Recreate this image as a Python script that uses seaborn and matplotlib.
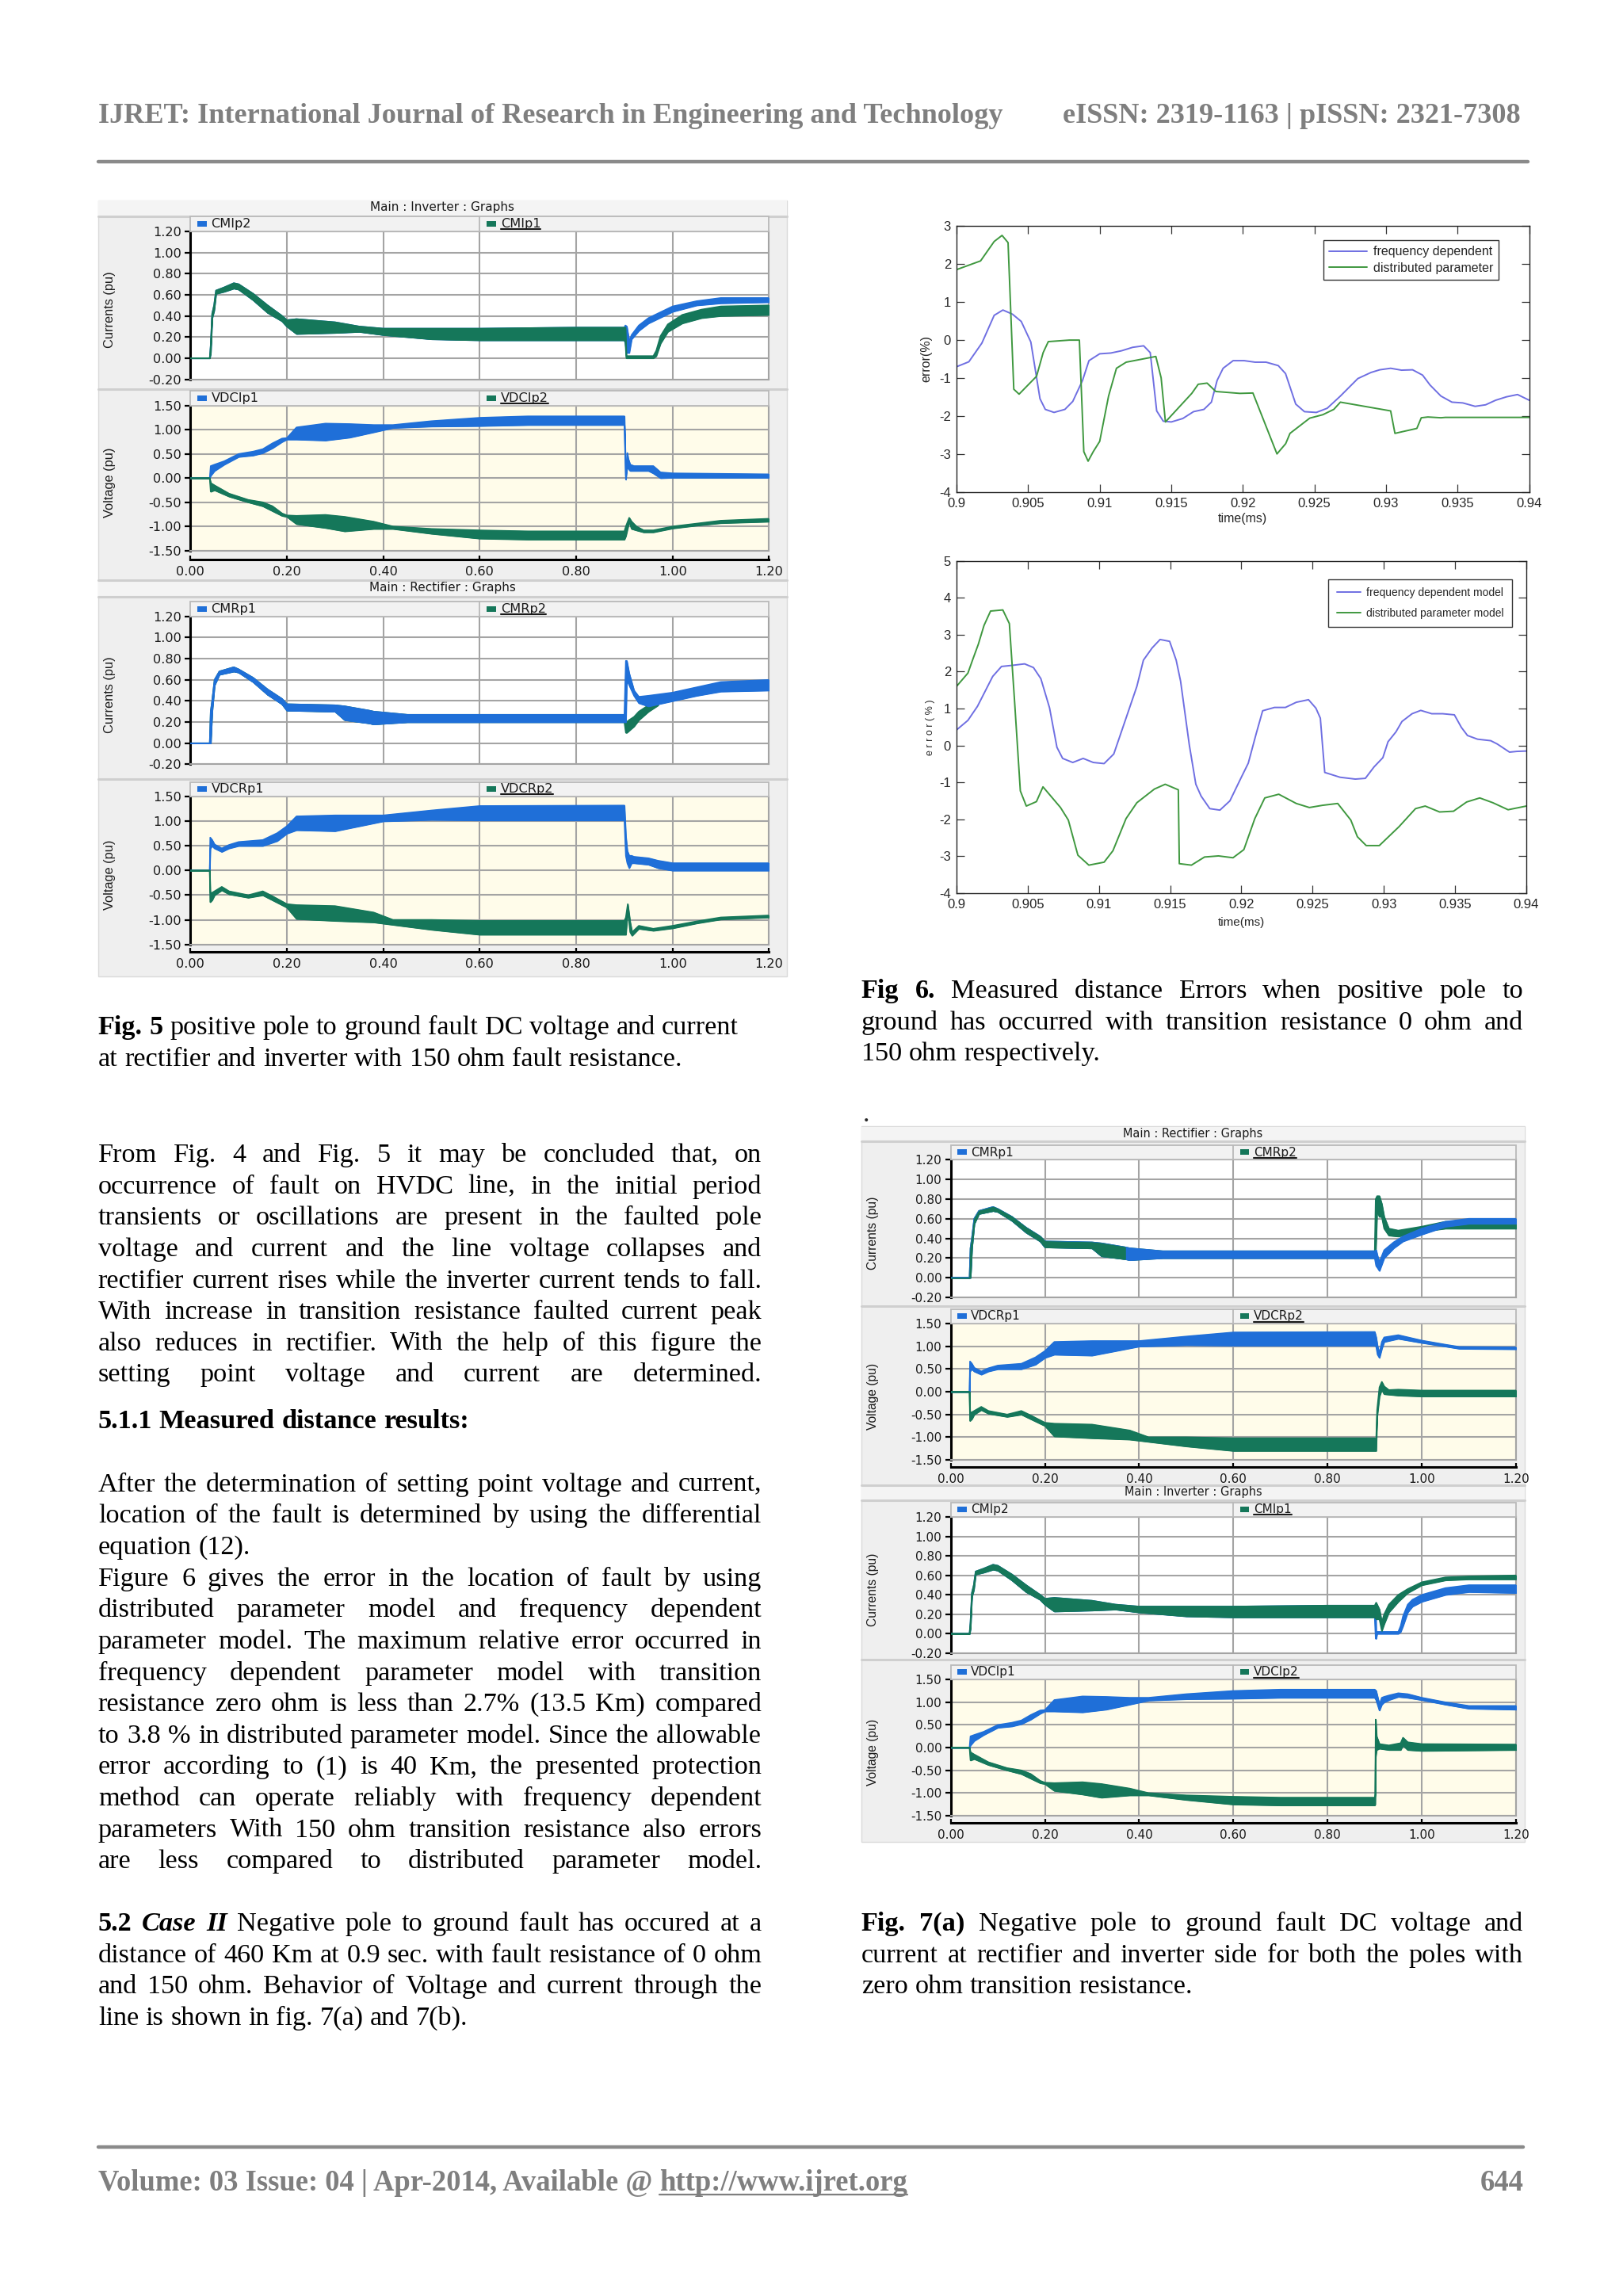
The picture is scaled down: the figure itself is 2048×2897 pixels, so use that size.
import numpy as np
import pandas as pd
import matplotlib
matplotlib.use('Agg')
import matplotlib.pyplot as plt
import seaborn as sns
from matplotlib.patches import Rectangle
from matplotlib.lines import Line2D

# ======================= DATA =======================
# ---- Fig 6 (top): error vs time, 0 ohm
F6A_T_FD = [0.9, 0.90086, 0.90177, 0.90263, 0.90324, 0.90391, 0.90452, 0.90519, 0.90583, 0.9062, 0.90681,
            0.90757, 0.90812, 0.9088, 0.90925, 0.91, 0.91077, 0.91153, 0.9123, 0.91307, 0.91353, 0.91398,
            0.91444, 0.9150, 0.9158, 0.91655, 0.91728, 0.9178, 0.9182, 0.91862, 0.91932, 0.92009, 0.92085,
            0.92162, 0.92247, 0.92298, 0.92369, 0.9243, 0.92513, 0.92589, 0.92681, 0.92803, 0.92895,
            0.92956, 0.93032, 0.93108, 0.93185, 0.93255, 0.93307, 0.93383, 0.9346, 0.93536, 0.93622,
            0.93695, 0.93765, 0.93841, 0.93918, 0.94]
F6A_E_FD = [-0.71, -0.58, -0.09, 0.64, 0.78, 0.67, 0.48, -0.06, -1.55, -1.83, -1.91,
            -1.83, -1.62, -1.07, -0.55, -0.37, -0.35, -0.29, -0.20, -0.16, -0.34, -1.87,
            -2.14, -2.16, -2.07, -1.89, -1.83, -1.64, -1.07, -0.75, -0.55, -0.55, -0.59,
            -0.59, -0.68, -0.89, -1.69, -1.89, -1.91, -1.80, -1.48, -1.02, -0.86,
            -0.79, -0.75, -0.80, -0.79, -0.93, -1.19, -1.48, -1.64, -1.66, -1.75,
            -1.71, -1.59, -1.50, -1.44, -1.59]
F6A_T_DP = [0.9, 0.90168, 0.90263, 0.90318, 0.9036, 0.904, 0.90437, 0.90559, 0.90605, 0.90641, 0.90788,
            0.90858, 0.90889, 0.90919, 0.90955, 0.91, 0.91062, 0.91117, 0.91185, 0.91392, 0.91429,
            0.91459, 0.91643, 0.91688, 0.9175, 0.91811, 0.91979, 0.9207, 0.92238, 0.92299, 0.92329,
            0.92467, 0.92558, 0.92635, 0.92681, 0.93032, 0.93062, 0.93215, 0.93246, 0.93292, 0.93383,
            0.93414, 0.94]
F6A_E_DP = [1.84, 2.07, 2.58, 2.74, 2.55, -1.30, -1.43, -0.96, -0.34, -0.05, -0.01,
            -0.01, -2.94, -3.19, -2.94, -2.67, -1.48, -0.75, -0.59, -0.44, -1.00,
            -2.16, -1.41, -1.17, -1.14, -1.36, -1.41, -1.40, -3.00, -2.73, -2.46,
            -2.06, -1.97, -1.83, -1.64, -1.87, -2.46, -2.33, -2.05, -2.03, -2.05,
            -2.04, -2.04]

# ---- Fig 6 (bottom): error vs time, 150 ohm
F6B_T_FD = [0.9, 0.9008, 0.90147, 0.90254, 0.90316, 0.90392, 0.90478, 0.9054, 0.90592, 0.90653, 0.90705,
            0.90745, 0.90816, 0.90889, 0.9096, 0.91036, 0.91104, 0.9119, 0.91266, 0.91312, 0.91373,
            0.91429, 0.91496, 0.91542, 0.91573, 0.91634, 0.9168, 0.91717, 0.91778, 0.91849, 0.91919,
            0.92002, 0.92048, 0.92103, 0.92149, 0.92232, 0.92309, 0.92385, 0.92471, 0.92523, 0.92554,
            0.92569, 0.92585, 0.92692, 0.92799, 0.9287, 0.92931, 0.92993, 0.93029, 0.93085, 0.93127,
            0.93198, 0.93259, 0.93336, 0.93413, 0.93495, 0.93544, 0.93587, 0.93658, 0.9375, 0.93796,
            0.93882, 0.93934, 0.94]
F6B_E_FD = [0.42, 0.68, 1.06, 1.87, 2.14, 2.17, 2.21, 2.11, 1.81, 1.02, -0.05,
            -0.35, -0.46, -0.35, -0.46, -0.49, -0.23, 0.74, 1.60, 2.31, 2.64,
            2.87, 2.82, 2.31, 1.74, 0.02, -1.05, -1.37, -1.71, -1.75, -1.50,
            -0.84, -0.48, 0.31, 0.94, 1.03, 1.03, 1.17, 1.24, 1.01, 0.74,
            0.02, -0.73, -0.86, -0.91, -0.89, -0.58, -0.33, 0.10, 0.37, 0.65,
            0.86, 0.95, 0.86, 0.86, 0.83, 0.49, 0.27, 0.17, 0.13, 0.04,
            -0.18, -0.16, -0.15]
F6B_T_DP = [0.9, 0.9008, 0.90116, 0.90153, 0.90193, 0.90239, 0.90325, 0.90371, 0.90408, 0.90448, 0.9049,
            0.90561, 0.90607, 0.9073, 0.90785, 0.90852, 0.90929, 0.91036, 0.91098, 0.9119, 0.91266,
            0.91389, 0.91465, 0.91557, 0.91564, 0.91649, 0.91741, 0.91839, 0.91941, 0.92017, 0.92094,
            0.92164, 0.92262, 0.92385, 0.92477, 0.92569, 0.92676, 0.92768, 0.92814, 0.92876, 0.92968,
            0.93106, 0.93222, 0.9329, 0.93391, 0.93489, 0.93581, 0.93673, 0.93765, 0.93872, 0.94]
F6B_E_DP = [1.60, 1.96, 2.35, 2.74, 3.25, 3.64, 3.67, 3.30, 1.17, -1.23, -1.64,
            -1.52, -1.12, -1.68, -2.02, -2.97, -3.24, -3.16, -2.85, -1.98, -1.55,
            -1.18, -1.05, -1.20, -3.20, -3.24, -3.02, -2.99, -3.04, -2.82, -1.98,
            -1.42, -1.32, -1.57, -1.68, -1.62, -1.57, -2.02, -2.47, -2.71, -2.71,
            -2.20, -1.71, -1.64, -1.80, -1.78, -1.53, -1.42, -1.55, -1.74, -1.64]

F6_XTICKS = [0.9, 0.905, 0.91, 0.915, 0.92, 0.925, 0.93, 0.935, 0.94]
F6_XTICK_LABELS = ['0.9', '0.905', '0.91', '0.915', '0.92', '0.925', '0.93', '0.935', '0.94']
F6A_YTICKS = [-4, -3, -2, -1, 0, 1, 2, 3]
F6B_YTICKS = [-4, -3, -2, -1, 0, 1, 2, 3, 4, 5]
F6A_LEGEND = ['frequency dependent', 'distributed parameter']
F6B_LEGEND = ['frequency dependent model', 'distributed parameter model']

# ---- PSCAD traces: envelopes (lower / upper) of the oscillating bands
# pre-fault parts (identical simulation before the fault)
INV_I_PRE_T = [0, 0.040, 0.042, 0.045, 0.049, 0.053, 0.07, 0.09, 0.10, 0.13, 0.16, 0.19, 0.20, 0.22, 0.30, 0.35, 0.40, 0.50, 0.60, 0.80, 0.90]
INV_I_PRE_LO = [0, 0, 0.05, 0.38, 0.45, 0.61, 0.63, 0.66, 0.65, 0.55, 0.43, 0.35, 0.30, 0.23, 0.24, 0.25, 0.22, 0.18, 0.17, 0.17, 0.17]
INV_I_PRE_HI = [0, 0, 0.12, 0.42, 0.50, 0.64, 0.67, 0.71, 0.70, 0.61, 0.50, 0.40, 0.36, 0.37, 0.34, 0.30, 0.28, 0.28, 0.28, 0.29, 0.29]

INV_VP_PRE_T = [0, 0.040, 0.042, 0.05, 0.07, 0.10, 0.13, 0.15, 0.17, 0.19, 0.20, 0.22, 0.28, 0.33, 0.38, 0.42, 0.50, 0.60, 0.70, 0.90]
INV_VP_PRE_LO = [0, 0, 0.05, 0.15, 0.28, 0.44, 0.47, 0.52, 0.62, 0.75, 0.80, 0.80, 0.78, 0.84, 0.95, 1.04, 1.07, 1.08, 1.10, 1.10]
INV_VP_PRE_HI = [0, 0, 0.25, 0.28, 0.35, 0.50, 0.55, 0.60, 0.72, 0.82, 0.83, 1.05, 1.13, 1.12, 1.10, 1.10, 1.18, 1.25, 1.28, 1.28]

INV_VN_PRE_T = [0, 0.040, 0.042, 0.05, 0.08, 0.12, 0.15, 0.17, 0.19, 0.20, 0.22, 0.28, 0.32, 0.38, 0.42, 0.50, 0.60, 0.70, 0.90]
INV_VN_PRE_LO = [0, 0, -0.28, -0.25, -0.38, -0.50, -0.58, -0.68, -0.78, -0.80, -0.95, -1.03, -1.10, -1.05, -1.05, -1.15, -1.25, -1.27, -1.27]
INV_VN_PRE_HI = [0, 0, -0.10, -0.15, -0.32, -0.45, -0.50, -0.58, -0.73, -0.77, -0.78, -0.76, -0.80, -0.90, -1.00, -1.05, -1.08, -1.10, -1.10]

REC_I_PRE_T = [0, 0.040, 0.042, 0.045, 0.05, 0.06, 0.09, 0.10, 0.13, 0.16, 0.19, 0.20, 0.30, 0.32, 0.37, 0.38, 0.45, 0.90]
REC_I_PRE_LO = [0, 0, 0.0, 0.30, 0.55, 0.65, 0.68, 0.67, 0.58, 0.46, 0.37, 0.31, 0.30, 0.22, 0.19, 0.18, 0.20, 0.20]
REC_I_PRE_HI = [0, 0, 0.30, 0.40, 0.60, 0.68, 0.72, 0.70, 0.62, 0.51, 0.42, 0.37, 0.36, 0.35, 0.31, 0.30, 0.27, 0.27]

REC_VP_PRE_T = [0, 0.040, 0.041, 0.045, 0.05, 0.065, 0.08, 0.10, 0.15, 0.18, 0.20, 0.22, 0.30, 0.35, 0.40, 0.50, 0.60, 0.90]
REC_VP_PRE_LO = [0, 0, 0.45, 0.50, 0.45, 0.38, 0.45, 0.50, 0.50, 0.60, 0.75, 0.82, 0.80, 0.90, 1.00, 1.03, 1.02, 1.02]
REC_VP_PRE_HI = [0, 0, 0.67, 0.62, 0.53, 0.45, 0.52, 0.58, 0.62, 0.76, 0.90, 1.10, 1.12, 1.12, 1.12, 1.22, 1.31, 1.32]

REC_VN_PRE_T = [0, 0.040, 0.041, 0.045, 0.05, 0.065, 0.08, 0.12, 0.15, 0.17, 0.20, 0.22, 0.30, 0.38, 0.42, 0.50, 0.60, 0.90]
REC_VN_PRE_LO = [0, 0, -0.64, -0.60, -0.50, -0.40, -0.48, -0.55, -0.50, -0.60, -0.75, -0.98, -1.02, -1.05, -1.10, -1.20, -1.30, -1.30]
REC_VN_PRE_HI = [0, 0, -0.45, -0.45, -0.42, -0.33, -0.42, -0.50, -0.42, -0.52, -0.68, -0.70, -0.72, -0.85, -1.00, -1.00, -1.02, -1.02]

# Fig 5 (positive pole fault, 150 ohm) post-fault parts
F5_CMIP2_T = [0.902, 0.905, 0.910, 0.915, 0.93, 0.95, 1.00, 1.05, 1.10, 1.20]
F5_CMIP2_LO = [0.14, 0.05, 0.05, 0.18, 0.26, 0.33, 0.44, 0.50, 0.52, 0.53]
F5_CMIP2_HI = [0.31, 0.30, 0.16, 0.22, 0.31, 0.38, 0.49, 0.54, 0.57, 0.57]
F5_CMIP1_T = [0.902, 0.904, 0.960, 0.966, 0.975, 0.99, 1.02, 1.06, 1.10, 1.20]
F5_CMIP1_LO = [0.15, 0.0, 0.0, 0.02, 0.14, 0.25, 0.33, 0.38, 0.40, 0.41]
F5_CMIP1_HI = [0.29, 0.02, 0.02, 0.07, 0.21, 0.32, 0.41, 0.46, 0.49, 0.50]
F5_VDCIP1_T = [0.903, 0.906, 0.908, 0.912, 0.92, 0.95, 0.96, 0.975, 1.00, 1.20]
F5_VDCIP1_LO = [-0.03, 0.25, 0.20, 0.15, 0.15, 0.15, 0.10, 0.0, 0.01, 0.01]
F5_VDCIP1_HI = [0.05, 0.52, 0.40, 0.28, 0.25, 0.25, 0.25, 0.12, 0.10, 0.08]
F5_VDCIP2_T = [0.903, 0.91, 0.915, 0.925, 0.94, 0.96, 1.00, 1.05, 1.10, 1.20]
F5_VDCIP2_LO = [-1.20, -0.90, -1.05, -1.08, -1.12, -1.12, -1.04, -0.98, -0.93, -0.90]
F5_VDCIP2_HI = [-1.00, -0.82, -0.90, -1.00, -1.08, -1.08, -1.00, -0.94, -0.88, -0.84]
F5_CMRP1_T = [0.903, 0.905, 0.91, 0.92, 0.93, 0.95, 1.00, 1.05, 1.10, 1.20]
F5_CMRP1_LO = [0.20, 0.60, 0.55, 0.45, 0.38, 0.35, 0.40, 0.45, 0.49, 0.50]
F5_CMRP1_HI = [0.78, 0.78, 0.66, 0.50, 0.44, 0.45, 0.48, 0.53, 0.58, 0.60]
F5_CMRP2_T = [0.903, 0.905, 0.91, 0.92, 0.93, 0.95, 0.97]
F5_CMRP2_LO = [0.10, 0.10, 0.12, 0.16, 0.22, 0.30, 0.36]
F5_CMRP2_HI = [0.22, 0.20, 0.22, 0.25, 0.30, 0.36, 0.42]
F5_VDCRP1_T = [0.903, 0.906, 0.91, 0.915, 0.92, 0.95, 0.97, 1.00, 1.20]
F5_VDCRP1_LO = [0.30, 0.15, 0.05, 0.15, 0.15, 0.12, 0.05, 0.0, 0.0]
F5_VDCRP1_HI = [0.70, 0.40, 0.30, 0.30, 0.28, 0.25, 0.20, 0.15, 0.15]
F5_VDCRP2_T = [0.903, 0.907, 0.912, 0.916, 0.93, 0.96, 1.00, 1.05, 1.10, 1.20]
F5_VDCRP2_LO = [-1.30, -0.80, -1.25, -1.32, -1.18, -1.22, -1.17, -1.07, -0.99, -0.95]
F5_VDCRP2_HI = [-0.95, -0.68, -1.05, -1.25, -1.12, -1.18, -1.12, -1.03, -0.95, -0.91]

# Fig 7(a) (negative pole fault, 0 ohm) post-fault parts
F7_CMRP1_T = [0.903, 0.906, 0.91, 0.92, 0.94, 0.96, 1.00, 1.05, 1.10, 1.20]
F7_CMRP1_LO = [0.12, 0.10, 0.07, 0.20, 0.30, 0.37, 0.44, 0.52, 0.55, 0.55]
F7_CMRP1_HI = [0.28, 0.22, 0.16, 0.28, 0.36, 0.42, 0.50, 0.57, 0.60, 0.60]
F7_CMRP2_T = [0.902, 0.905, 0.91, 0.915, 0.92, 0.93, 0.95, 1.00, 1.05, 1.10, 1.20]
F7_CMRP2_LO = [0.25, 0.68, 0.62, 0.62, 0.50, 0.43, 0.42, 0.47, 0.50, 0.50, 0.50]
F7_CMRP2_HI = [0.80, 0.83, 0.83, 0.75, 0.62, 0.50, 0.48, 0.52, 0.57, 0.58, 0.58]
F7_VDCRP1_T = [0.903, 0.906, 0.91, 0.915, 0.92, 0.95, 1.00, 1.05, 1.08, 1.20]
F7_VDCRP1_LO = [1.00, 0.82, 0.75, 0.95, 1.10, 1.17, 1.08, 1.00, 0.95, 0.94]
F7_VDCRP1_HI = [1.20, 1.00, 0.85, 1.10, 1.20, 1.25, 1.13, 1.04, 0.99, 0.98]
F7_VDCRP2_T = [0.903, 0.905, 0.91, 0.915, 0.92, 0.93, 0.95, 1.00, 1.20]
F7_VDCRP2_LO = [-1.30, -0.55, -0.10, 0.05, -0.05, -0.06, -0.08, -0.10, -0.10]
F7_VDCRP2_HI = [-1.05, -0.40, 0.10, 0.22, 0.12, 0.04, 0.05, 0.03, 0.03]
F7_CMIP2_T = [0.902, 0.903, 0.905, 0.95, 0.955, 0.96, 0.97, 0.98, 1.00, 1.05, 1.10, 1.20]
F7_CMIP2_LO = [-0.05, -0.05, 0.0, 0.0, 0.02, 0.08, 0.22, 0.28, 0.33, 0.40, 0.43, 0.42]
F7_CMIP2_HI = [0.28, 0.02, 0.02, 0.02, 0.08, 0.18, 0.30, 0.35, 0.40, 0.47, 0.50, 0.50]
F7_CMIP1_T = [0.903, 0.91, 0.915, 0.92, 0.93, 0.95, 0.97, 1.00, 1.05, 1.10, 1.20]
F7_CMIP1_LO = [0.15, 0.15, 0.03, 0.10, 0.22, 0.33, 0.42, 0.50, 0.55, 0.56, 0.56]
F7_CMIP1_HI = [0.32, 0.25, 0.12, 0.20, 0.30, 0.40, 0.46, 0.53, 0.58, 0.59, 0.60]
F7_VDCIP1_T = [0.903, 0.91, 0.915, 0.92, 0.93, 0.95, 0.97, 1.00, 1.05, 1.10, 1.20]
F7_VDCIP1_LO = [1.05, 0.82, 0.95, 1.00, 1.05, 1.12, 1.10, 1.05, 0.95, 0.86, 0.84]
F7_VDCIP1_HI = [1.25, 0.95, 1.10, 1.12, 1.15, 1.20, 1.18, 1.10, 1.00, 0.92, 0.92]
F7_VDCIP2_T = [0.901, 0.902, 0.904, 0.91, 0.93, 0.955, 0.96, 0.97, 1.00, 1.20]
F7_VDCIP2_LO = [-1.25, -0.20, -0.05, -0.02, -0.05, -0.05, 0.05, -0.05, -0.07, -0.05]
F7_VDCIP2_HI = [-1.02, 0.62, 0.25, 0.08, 0.05, 0.10, 0.22, 0.12, 0.08, 0.07]

PS_XTICKS = [0.0, 0.2, 0.4, 0.6, 0.8, 1.0, 1.2]
PS_CUR_TICKS = [-0.2, 0.0, 0.2, 0.4, 0.6, 0.8, 1.0, 1.2]
PS_VOLT_TICKS = [-1.5, -1.0, -0.5, 0.0, 0.5, 1.0, 1.5]

# ---- page text
HEADER_LEFT = 'IJRET: International Journal of Research in Engineering and Technology'
HEADER_RIGHT = 'eISSN: 2319-1163 | pISSN: 2321-7308'
FOOTER_LEFT = 'Volume: 03 Issue: 04 | Apr-2014, Available @ '
FOOTER_LINK = 'http://www.ijret.org'
FOOTER_PAGE = '644'

FIG5_CAPTION = ['*Fig. *5 positive pole to ground fault DC voltage and current',
                'at rectifier and inverter with 150 ohm fault resistance.']
PARA1 = ['From Fig. 4 and Fig. 5 it may be concluded that, on',
         'occurrence of fault on HVDC line, in the initial period',
         'transients or oscillations are present in the faulted pole',
         'voltage and current and the line voltage collapses and',
         'rectifier current rises while the inverter current tends to fall.',
         'With increase in transition resistance faulted current peak',
         'also reduces in rectifier. With the help of this figure the',
         'setting point voltage and current are determined.']
HEADING = '*5.1.1 *Measured *distance *results:'
PARA2 = ['After the determination of setting point voltage and current,',
         'location of the fault is determined by using the differential',
         'equation (12).',
         'Figure 6 gives the error in the location of fault by using',
         'distributed parameter model and frequency dependent',
         'parameter model. The maximum relative error occurred in',
         'frequency dependent parameter model with transition',
         'resistance zero ohm is less than 2.7% (13.5 Km) compared',
         'to 3.8 % in distributed parameter model. Since the allowable',
         'error according to (1) is 40 Km, the presented protection',
         'method can operate reliably with frequency dependent',
         'parameters With 150 ohm transition resistance also errors',
         'are less compared to distributed parameter model.']
PARA2_JUSTIFY = [1, 1, 0, 1, 1, 1, 1, 1, 1, 1, 1, 1, 1]
PARA3 = ['*5.2 ~Case ~II Negative pole to ground fault has occured at a',
         'distance of 460 Km at 0.9 sec. with fault resistance of 0 ohm',
         'and 150 ohm. Behavior of Voltage and current through the',
         'line is shown in fig. 7(a) and 7(b).']
FIG6_CAPTION = ['*Fig *6. Measured distance Errors when positive pole to',
                'ground has occurred with transition resistance 0 ohm and',
                '150 ohm respectively.']
FIG7_CAPTION = ['*Fig. *7(a) Negative pole to ground fault DC voltage and',
                'current at rectifier and inverter side for both the poles with',
                'zero ohm transition resistance.']

# ======================= STYLE / LAYOUT =======================
sns.set_theme(style='white')
plt.rcParams['font.family'] = ['Liberation Serif', 'DejaVu Serif']
plt.rcParams['axes.unicode_minus'] = False

W, H = 2048, 2897
SX, SY = 1108.0, 1568.0
PX = W / SX
fig = plt.figure(figsize=(W / 100, H / 100), dpi=100)
fig.patch.set_facecolor('white')
R = fig.canvas.get_renderer()


def fx(x):
    return x / SX


def fy(y):
    return 1 - y / SY


def add_ax(x0, y0, x1, y1):
    return fig.add_axes([fx(x0), fy(y1), fx(x1) - fx(x0), fy(y0) - fy(y1)])


def tw(s, **kw):
    t = fig.text(0, 0, s, **kw)
    w = t.get_window_extent(renderer=R).width
    t.remove()
    return w / PX


def fig_line(x0, x1, y0, y1, color, lw, z=-1):
    fig.add_artist(Line2D([fx(x0), fx(x1)], [fy(y0), fy(y1)], transform=fig.transFigure,
                          color=color, lw=lw, zorder=z))


def fig_rect(x0, y0, x1, y1, fc, ec='none', lw=0, z=-2):
    fig.add_artist(Rectangle((fx(x0), fy(y1)), fx(x1) - fx(x0), fy(y0) - fy(y1),
                             transform=fig.transFigure, facecolor=fc, edgecolor=ec, lw=lw, zorder=z))


# ---------------- page text ----------------
GRAY_T = '#7f7f7f'
fs_head = 26 * 619 / tw(HEADER_LEFT, fontsize=26, fontweight='bold')
fig.text(fx(67), fy(84), HEADER_LEFT, fontsize=fs_head, fontweight='bold', color=GRAY_T, va='baseline', ha='left')
fig.text(fx(1038), fy(84), HEADER_RIGHT, fontsize=fs_head, fontweight='bold', color=GRAY_T, va='baseline', ha='right')
fig_line(67, 1043, 110.5, 110.5, '#8a8a8a', 3.2)

fs_foot = 26 * 553 / tw(FOOTER_LEFT + FOOTER_LINK, fontsize=26, fontweight='bold')
fig_line(67, 1040, 1466, 1466, '#8a8a8a', 3.2)
fig.text(fx(67), fy(1496), FOOTER_LEFT, fontsize=fs_foot, fontweight='bold', color=GRAY_T, va='baseline', ha='left')
xl = 67 + tw(FOOTER_LEFT, fontsize=fs_foot, fontweight='bold')
wl = tw(FOOTER_LINK, fontsize=fs_foot, fontweight='bold')
fig.text(fx(xl), fy(1496), FOOTER_LINK, fontsize=fs_foot, fontweight='bold', color=GRAY_T, va='baseline', ha='left')
fig_line(xl, xl + wl, 1498.5, 1498.5, GRAY_T, 1.6)
fig.text(fx(1040), fy(1496), FOOTER_PAGE, fontsize=fs_foot, fontweight='bold', color=GRAY_T, va='baseline', ha='right')

FS = 24.6 * 397 / tw('at rectifier and inverter with 150 ohm fault resistance.', fontsize=24.6)
SPACE = tw('a a', fontsize=FS) - tw('aa', fontsize=FS)
LH = 21.45


def style_kw(word):
    if word.startswith('~'):
        return word[1:], dict(fontsize=FS, fontweight='bold', fontstyle='italic')
    if word.startswith('*'):
        return word[1:], dict(fontsize=FS, fontweight='bold')
    return word, dict(fontsize=FS)


def draw_line(line, x0, x1, yb, justify):
    items = [style_kw(w) for w in line.split()]
    widths = [tw(s, **kw) for s, kw in items]
    gap = SPACE
    if justify and len(items) > 1:
        gap = (x1 - x0 - sum(widths)) / (len(items) - 1)
    x = x0
    for (s, kw), w in zip(items, widths):
        fig.text(fx(x), fy(yb), s, ha='left', va='baseline', color='black', **kw)
        x += w + gap


def draw_par(lines, x0, x1, yb0, justify):
    for i, ln in enumerate(lines):
        draw_line(ln, x0, x1, yb0 + i * LH, justify[i])


LX0, LX1 = 67, 520
RX0, RX1 = 588, 1040
draw_par(FIG5_CAPTION, LX0, LX1, 706.5, [0, 0])
draw_par(PARA1, LX0, LX1, 793.5, [1] * 8)
draw_line(HEADING, LX0, LX1, 975.5, False)
draw_par(PARA2, LX0, LX1, 1018.5, PARA2_JUSTIFY)
draw_par(PARA3, LX0, LX1, 1318.5, [1, 1, 1, 0])
draw_par(FIG6_CAPTION, RX0, RX1, 681.5, [1, 1, 0])
draw_par(FIG7_CAPTION, RX0, RX1, 1318.5, [1, 1, 0])
fig.text(fx(589), fy(766), '.', fontsize=FS, ha='left', va='baseline')

# ---------------- PSCAD style graphs ----------------
PS_BLUE = '#1f6fd8'
PS_GREEN = '#15775a'
PS_GRID = '#a4a4a4'
PS_FONT = ['DejaVu Sans']
PS_TXT = '#1a1a1a'


def series(pre_t, pre_lo, pre_hi, t, lo, hi):
    return (np.array(pre_t + t, float), np.array(pre_lo + lo, float), np.array(pre_hi + hi, float))


def band(ax, s, color, where=None, edges=True):
    t, lo, hi = s
    ax.fill_between(t, lo, hi, where=where, color=color, lw=1.0, edgecolor=color, zorder=3)
    if edges:
        for yv in (lo, hi):
            sns.lineplot(x=t, y=yv, ax=ax, color=color, lw=1.2, estimator=None, sort=False,
                         legend=False, zorder=3)


def ps_axes(box, kind, names, fs, ylab_x):
    x0, y0, x1, y1 = box
    ax = add_ax(x0, y0, x1, y1)
    ax.set_facecolor('#ffffff' if kind == 'I' else '#fffcea')
    ax.set_xlim(0, 1.2)
    if kind == 'I':
        ax.set_ylim(-0.2, 1.2)
        yt = PS_CUR_TICKS
    else:
        ax.set_ylim(-1.5, 1.5)
        yt = PS_VOLT_TICKS
    ax.set_xticks(PS_XTICKS)
    ax.set_xticklabels([])
    ax.set_yticks(yt)
    ax.set_yticklabels(['%.2f' % v for v in yt], fontsize=fs, family=PS_FONT, color=PS_TXT)
    ax.grid(True, color=PS_GRID, lw=1.5)
    ax.set_axisbelow(True)
    for s in ['top', 'right', 'bottom']:
        ax.spines[s].set_color(PS_GRID)
        ax.spines[s].set_linewidth(1.5)
    ax.spines['left'].set_color('black')
    ax.spines['left'].set_linewidth(2.2)
    ax.tick_params(axis='y', left=True, direction='out', length=5, width=1.6, color='black', pad=3)
    ax.tick_params(axis='x', bottom=False, length=0)
    # legend strip
    h = 10.0 / (y1 - y0)
    ax.add_patch(Rectangle((0, 1.0), 1.0, h, transform=ax.transAxes, facecolor='#f2f2f2',
                           edgecolor='#b9b9b9', lw=1.3, clip_on=False, zorder=5))
    ax.add_line(Line2D([0.5, 0.5], [1.0, 1.0 + h], transform=ax.transAxes, color='#b9b9b9',
                       lw=1.3, clip_on=False, zorder=6))
    for i, (nm, c) in enumerate(zip(names, (PS_BLUE, PS_GREEN))):
        xs = 0.5 * i
        ax.add_patch(Rectangle((xs + 0.012, 1.0 + h * 0.32), 0.016, h * 0.38, transform=ax.transAxes,
                               facecolor=c, edgecolor='none', clip_on=False, zorder=7))
        t = ax.text(xs + 0.036, 1.0 + h * 0.5, nm, transform=ax.transAxes, va='center', ha='left',
                    fontsize=fs, family=PS_FONT, color=PS_TXT, zorder=7)
        if i == 1:
            bb = t.get_window_extent(renderer=R)
            inv = ax.transAxes.inverted()
            (a0, b0), (a1, _) = inv.transform([(bb.x0, bb.y0), (bb.x1, bb.y0)])
            ax.add_line(Line2D([a0, a1], [b0 + 0.005, b0 + 0.005], transform=ax.transAxes, color=PS_TXT,
                               lw=1.5, clip_on=False, zorder=7))
    lab = 'Currents (pu)' if kind == 'I' else 'Voltage (pu)'
    fig.text(fx(ylab_x), fy((y0 + y1) / 2 + 3), lab, rotation=90, ha='center', va='center',
             fontsize=fs * 1.02, family=['Liberation Sans', 'DejaVu Sans'], color=PS_TXT)
    return ax


def ps_xaxis(x0, x1, y, fs):
    ax = fig.add_axes([fx(x0), fy(y), fx(x1) - fx(x0), 0.0004])
    ax.set_xlim(0, 1.2)
    ax.set_ylim(0, 1)
    ax.set_facecolor('none')
    for s in ['left', 'right', 'bottom']:
        ax.spines[s].set_visible(False)
    ax.spines['top'].set_color('black')
    ax.spines['top'].set_linewidth(2.2)
    ax.set_yticks([])
    ax.set_xticks(PS_XTICKS)
    ax.set_xticklabels(['%.2f' % v for v in PS_XTICKS], fontsize=fs, family=PS_FONT, color=PS_TXT)
    ax.tick_params(axis='x', bottom=True, direction='in', length=4, width=1.6, color='black', pad=5)
    return ax


def ps_block(box, titles, seps, fs):
    x0, y0, x1, y1 = box
    fig_rect(x0, y0, x1, y1, '#efefef', '#dadada', 1.0)
    for txt, y in titles:
        fig_rect(x0, y - 4.5, x1, y + 5.5, '#f4f4f4')
        fig.text(fx((x0 + x1) / 2), fy(y), txt, ha='center', va='center', fontsize=fs,
                 family=PS_FONT, color=PS_TXT)
    for y in seps:
        fig_line(x0, x1, y, y, '#cfcfcf', 2.2)


# ---- Fig 5
FS5 = 11.6
ps_block((67, 137, 537, 667), [('Main : Inverter : Graphs', 141.5), ('Main : Rectifier : Graphs', 401.5)],
         [147.5, 265.5, 396, 407.5, 532], FS5 * 0.95)
ax = ps_axes((130, 158, 525, 259), 'I', ['CMIp2', 'CMIp1'], FS5, 75)
band(ax, series(INV_I_PRE_T, INV_I_PRE_LO, INV_I_PRE_HI, F5_CMIP2_T, F5_CMIP2_LO, F5_CMIP2_HI), PS_BLUE)
band(ax, series(INV_I_PRE_T, INV_I_PRE_LO, INV_I_PRE_HI, F5_CMIP1_T, F5_CMIP1_LO, F5_CMIP1_HI), PS_GREEN)
ax.set_xlim(0, 1.2); ax.set_ylim(-0.2, 1.2); ax.set_xlabel(''); ax.set_ylabel('')

ax = ps_axes((130, 277, 525, 376), 'V', ['VDCIp1', 'VDCIp2'], FS5, 75)
band(ax, series(INV_VP_PRE_T, INV_VP_PRE_LO, INV_VP_PRE_HI, F5_VDCIP1_T, F5_VDCIP1_LO, F5_VDCIP1_HI), PS_BLUE)
band(ax, series(INV_VN_PRE_T, INV_VN_PRE_LO, INV_VN_PRE_HI, F5_VDCIP2_T, F5_VDCIP2_LO, F5_VDCIP2_HI), PS_GREEN)
ax.set_xlim(0, 1.2); ax.set_ylim(-1.5, 1.5); ax.set_xlabel(''); ax.set_ylabel('')
ps_xaxis(130, 525, 382.5, FS5)

ax = ps_axes((130, 421, 525, 522), 'I', ['CMRp1', 'CMRp2'], FS5, 75)
band(ax, series(REC_I_PRE_T, REC_I_PRE_LO, REC_I_PRE_HI, F5_CMRP2_T, F5_CMRP2_LO, F5_CMRP2_HI), PS_GREEN)
band(ax, series(REC_I_PRE_T, REC_I_PRE_LO, REC_I_PRE_HI, F5_CMRP1_T, F5_CMRP1_LO, F5_CMRP1_HI), PS_BLUE)
ax.set_xlim(0, 1.2); ax.set_ylim(-0.2, 1.2); ax.set_xlabel(''); ax.set_ylabel('')

ax = ps_axes((130, 544, 525, 645), 'V', ['VDCRp1', 'VDCRp2'], FS5, 75)
band(ax, series(REC_VP_PRE_T, REC_VP_PRE_LO, REC_VP_PRE_HI, F5_VDCRP1_T, F5_VDCRP1_LO, F5_VDCRP1_HI), PS_BLUE)
band(ax, series(REC_VN_PRE_T, REC_VN_PRE_LO, REC_VN_PRE_HI, F5_VDCRP2_T, F5_VDCRP2_LO, F5_VDCRP2_HI), PS_GREEN)
ax.set_xlim(0, 1.2); ax.set_ylim(-1.5, 1.5); ax.set_xlabel(''); ax.set_ylabel('')
ps_xaxis(130, 525, 650.5, FS5)

# ---- Fig 7(a)
FS7 = 11.0
ps_block((588, 769, 1041, 1258), [('Main : Rectifier : Graphs', 774), ('Main : Inverter : Graphs', 1019)],
         [779.5, 892, 1014.5, 1024.5, 1133.5], FS7 * 0.95)
ax = ps_axes((649, 792, 1035, 886), 'I', ['CMRp1', 'CMRp2'], FS7, 596)
s_green = series(REC_I_PRE_T, REC_I_PRE_LO, REC_I_PRE_HI, F7_CMRP2_T, F7_CMRP2_LO, F7_CMRP2_HI)
band(ax, s_green, PS_GREEN)
band(ax, series(REC_I_PRE_T, REC_I_PRE_LO, REC_I_PRE_HI, F7_CMRP1_T, F7_CMRP1_LO, F7_CMRP1_HI), PS_BLUE)
band(ax, s_green, PS_GREEN, where=s_green[0] <= 0.37, edges=False)
ax.set_xlim(0, 1.2); ax.set_ylim(-0.2, 1.2); ax.set_xlabel(''); ax.set_ylabel('')

ax = ps_axes((649, 904, 1035, 997), 'V', ['VDCRp1', 'VDCRp2'], FS7, 596)
band(ax, series(REC_VP_PRE_T, REC_VP_PRE_LO, REC_VP_PRE_HI, F7_VDCRP1_T, F7_VDCRP1_LO, F7_VDCRP1_HI), PS_BLUE)
band(ax, series(REC_VN_PRE_T, REC_VN_PRE_LO, REC_VN_PRE_HI, F7_VDCRP2_T, F7_VDCRP2_LO, F7_VDCRP2_HI), PS_GREEN)
ax.set_xlim(0, 1.2); ax.set_ylim(-1.5, 1.5); ax.set_xlabel(''); ax.set_ylabel('')
ps_xaxis(649, 1035, 1002.5, FS7)

ax = ps_axes((649, 1036, 1035, 1129), 'I', ['CMIp2', 'CMIp1'], FS7, 596)
band(ax, series(INV_I_PRE_T, INV_I_PRE_LO, INV_I_PRE_HI, F7_CMIP2_T, F7_CMIP2_LO, F7_CMIP2_HI), PS_BLUE)
band(ax, series(INV_I_PRE_T, INV_I_PRE_LO, INV_I_PRE_HI, F7_CMIP1_T, F7_CMIP1_LO, F7_CMIP1_HI), PS_GREEN)
ax.set_xlim(0, 1.2); ax.set_ylim(-0.2, 1.2); ax.set_xlabel(''); ax.set_ylabel('')

ax = ps_axes((649, 1147, 1035, 1240), 'V', ['VDCIp1', 'VDCIp2'], FS7, 596)
band(ax, series(INV_VP_PRE_T, INV_VP_PRE_LO, INV_VP_PRE_HI, F7_VDCIP1_T, F7_VDCIP1_LO, F7_VDCIP1_HI), PS_BLUE)
band(ax, series(INV_VN_PRE_T, INV_VN_PRE_LO, INV_VN_PRE_HI, F7_VDCIP2_T, F7_VDCIP2_LO, F7_VDCIP2_HI), PS_GREEN)
ax.set_xlim(0, 1.2); ax.set_ylim(-1.5, 1.5); ax.set_xlabel(''); ax.set_ylabel('')
ps_xaxis(649, 1035, 1245.5, FS7)

# ---------------- Fig 6 (MATLAB style) ----------------
F6_BLUE = '#6f6fe2'
F6_GREEN = '#3f983f'


def matlab_axes(box, t_fd, e_fd, t_dp, e_dp, yticks, ylim, leg_labels, fam, fs, leg_anchor, leg_fs, hl, ls, bp):
    ax = add_ax(*box)
    df = pd.DataFrame({'t': t_fd + t_dp, 'err': e_fd + e_dp,
                       'model': [leg_labels[0]] * len(t_fd) + [leg_labels[1]] * len(t_dp)})
    sns.lineplot(data=df, x='t', y='err', hue='model', hue_order=leg_labels, palette=[F6_BLUE, F6_GREEN],
                 estimator=None, sort=False, lw=1.4, legend=False, ax=ax)
    ax.set_xlim(0.9, 0.94)
    ax.set_ylim(*ylim)
    ax.set_facecolor('white')
    ax.set_xticks(F6_XTICKS)
    ax.set_xticklabels(F6_XTICK_LABELS, fontsize=fs, family=fam)
    ax.set_yticks(yticks)
    ax.set_yticklabels([str(v) for v in yticks], fontsize=fs, family=fam)
    ax.tick_params(direction='in', top=True, right=True, bottom=True, left=True, length=7, width=0.9,
                   color='#333333', pad=5)
    for s in ax.spines.values():
        s.set_color('#222222')
        s.set_linewidth(1.0)
    ax.grid(False)
    handles = [Line2D([], [], color=F6_BLUE, lw=1.4), Line2D([], [], color=F6_GREEN, lw=1.4)]
    leg = ax.legend(handles, leg_labels, loc='upper right', bbox_to_anchor=leg_anchor, frameon=True,
                    fancybox=False, edgecolor='black', prop={'family': fam, 'size': leg_fs},
                    handlelength=hl, borderpad=bp, labelspacing=ls, handletextpad=0.5)
    leg.get_frame().set_linewidth(1.0)
    return ax


FAM_A = ['Liberation Sans', 'DejaVu Sans']
FAM_B = ['Liberation Sans Narrow', 'Liberation Sans', 'DejaVu Sans']
ax = matlab_axes((653, 154, 1044, 336), F6A_T_FD, F6A_E_FD, F6A_T_DP, F6A_E_DP, F6A_YTICKS, (-4, 3),
                 F6A_LEGEND, FAM_A, 12, (0.958, 0.968), 11.5, 3.0, 0.35, 0.45)
ax.set_xlabel('time(ms)', fontsize=11.5, family=FAM_A, labelpad=3)
ax.set_ylabel('error(%)', fontsize=11.5, family=FAM_A, labelpad=6)

ax = matlab_axes((653, 383, 1042, 610), F6B_T_FD, F6B_E_FD, F6B_T_DP, F6B_E_DP, F6B_YTICKS, (-4, 5),
                 F6B_LEGEND, FAM_B, 12, (0.985, 0.962), 10.0, 2.2, 0.85, 0.75)
ax.set_xlabel('time(ms)', fontsize=11, family=FAM_B, labelpad=6)
ax.set_ylabel('e r r o r ( % )', fontsize=9, family=FAM_A, labelpad=4)

fig.savefig('out.png', dpi=100)
